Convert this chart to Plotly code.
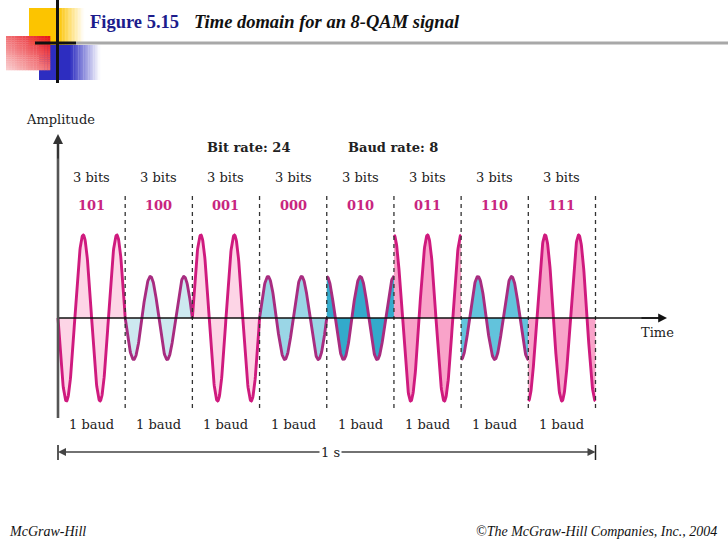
import numpy as np
import plotly.graph_objects as go

# ---------------- data ----------------
bit_groups = ["101", "100", "001", "000", "010", "011", "110", "111"]
amplitudes = [1.0, 0.5, 1.0, 0.5, 0.5, 1.0, 0.5, 1.0]
phases_deg = [180, 180, 0, 0, 90, 90, 270, 270]
fill_colors = ["#fdd5e6", "#cde9f0", "#fdd5e6", "#9ad6e6",
               "#33aacb", "#f9a3c9", "#62c3dc", "#f9a3c9"]
line_colors = ["#cf1a7e", "#a82c80", "#cf1a7e", "#a82c80",
               "#a82c80", "#cf1a7e", "#a82c80", "#cf1a7e"]
bits_per_baud = "3 bits"
baud_label = "1 baud"
bit_rate = 24
baud_rate = 8
cycles_per_baud = 2

W, H = 728, 546
X0_PX, X1_PX = 58, 595.5      # pixel positions of t=0 and t=1 s
Y0_PX, UNIT_PX = 318, 83      # pixel of amplitude 0, pixels per amplitude unit


def px(p):  # pixel x -> seconds
    return (p - X0_PX) / (X1_PX - X0_PX)


def py(p):  # pixel y -> amplitude
    return (Y0_PX - p) / UNIT_PX


def pap_x(p):
    return p / W


def pap_y(p):
    return 1 - p / H


baud_T = 1.0 / baud_rate
carrier_f = cycles_per_baud * baud_rate

fig = go.Figure()

for k, (bits, A, ph) in enumerate(zip(bit_groups, amplitudes, phases_deg)):
    t = np.linspace(k * baud_T, (k + 1) * baud_T, 240)
    s = A * np.sin(2 * np.pi * carrier_f * t + np.deg2rad(ph))
    fig.add_trace(go.Scatter(
        x=t, y=s, mode="lines", fill="tozeroy",
        fillcolor=fill_colors[k],
        line=dict(color=line_colors[k], width=2.9),
        hoverinfo="skip", showlegend=False))

shapes = []
annotations = []

# dashed baud boundaries
for k in range(1, baud_rate + 1):
    shapes.append(dict(type="line", xref="x", yref="y",
                       x0=k * baud_T, x1=k * baud_T, y0=py(196), y1=py(412),
                       line=dict(color="#333333", width=1.3, dash="4px,4px")))

# time axis (horizontal) with arrow
shapes.append(dict(type="line", xref="x", yref="y", x0=0, x1=px(660),
                   y0=0, y1=0, line=dict(color="#111111", width=1.6)))
annotations.append(dict(x=px(667), y=0, ax=px(640), ay=0, xref="x", yref="y",
                        axref="x", ayref="y", text="", showarrow=True,
                        arrowhead=2, arrowsize=1.1, arrowwidth=1.6,
                        arrowcolor="#111111"))
# amplitude axis (vertical) with arrow
shapes.append(dict(type="line", xref="x", yref="y", x0=0, x1=0,
                   y0=py(418), y1=py(140), line=dict(color="#555555", width=2.6)))
annotations.append(dict(x=0, y=py(134), ax=0, ay=py(160), xref="x", yref="y",
                        axref="x", ayref="y", text="", showarrow=True,
                        arrowhead=2, arrowsize=1, arrowwidth=2,
                        arrowcolor="#333333"))

# 1 s dimension line
dim_y = py(452)
annotations.append(dict(x=1, y=dim_y, ax=0.5, ay=dim_y, xref="x", yref="y",
                        axref="x", ayref="y", text="", showarrow=True,
                        arrowhead=2, arrowsize=1, arrowwidth=1.6,
                        arrowcolor="#444444"))
annotations.append(dict(x=0, y=dim_y, ax=0.5, ay=dim_y, xref="x", yref="y",
                        axref="x", ayref="y", text="", showarrow=True,
                        arrowhead=2, arrowsize=1, arrowwidth=1.6,
                        arrowcolor="#444444"))
for xe in (0, 1):
    shapes.append(dict(type="line", xref="x", yref="y", x0=xe, x1=xe,
                       y0=py(445), y1=py(460),
                       line=dict(color="#222222", width=1.5)))

SERIF = "DejaVu Serif"
TXT = "#222222"


def text(x, y, s, size=13, color=TXT, family=SERIF, bg=None, xanchor="center"):
    d = dict(x=x, y=y, xref="x", yref="y", text=s, showarrow=False,
             font=dict(family=family, size=size, color=color),
             xanchor=xanchor, yanchor="middle")
    if bg:
        d["bgcolor"] = bg
    annotations.append(d)


text(px(330), dim_y, "1 s", bg="white")

for k, bits in enumerate(bit_groups):
    xc = (k + 0.5) * baud_T
    text(xc, py(177), bits_per_baud)
    text(xc, py(205), "<b>" + bits + "</b>", size=13, color="#c8257f")
    text(xc, py(424), baud_label)

text(px(60), py(119), "Amplitude")
text(px(657), py(332), "Time")
text(px(248), py(147), "<b>Bit rate: %d</b>" % bit_rate, size=13)
text(px(393), py(147), "<b>Baud rate: %d</b>" % baud_rate, size=13)

# ------------- decorative header -------------
def hexmix(c1, c2, f):
    a = [int(c1[i:i + 2], 16) for i in (1, 3, 5)]
    b = [int(c2[i:i + 2], 16) for i in (1, 3, 5)]
    return "#%02x%02x%02x" % tuple(round(a[j] + (b[j] - a[j]) * f) for j in range(3))


def grad_rect(x0, x1, y0, y1, col, solid_until, n=18):
    shapes.append(dict(type="rect", xref="paper", yref="paper",
                       x0=pap_x(x0), x1=pap_x(solid_until),
                       y0=pap_y(y1), y1=pap_y(y0),
                       fillcolor=col, line=dict(width=0), layer="above"))
    step = (x1 - solid_until) / n
    for i in range(n):
        f = (i + 0.5) / n
        shapes.append(dict(type="rect", xref="paper", yref="paper",
                           x0=pap_x(solid_until + i * step),
                           x1=pap_x(solid_until + (i + 1) * step + 0.3),
                           y0=pap_y(y1), y1=pap_y(y0),
                           fillcolor=hexmix(col, "#ffffff", f),
                           line=dict(width=0), layer="above"))


grad_rect(29, 84, 8, 45, "#fcc400", 58)
grad_rect(39, 100, 45, 80, "#2d2dc0", 70)
# red square: gradient from bottom-left (pale) to top-right (red)
n = 16
for i in range(n):
    for j in range(n):
        f = ((n - 1 - i) + j) / (2 * (n - 1))
        xa = 6 + 44 * i / n
        ya = 36 + 34 * j / n
        shapes.append(dict(type="rect", xref="paper", yref="paper",
                           x0=pap_x(xa), x1=pap_x(xa + 44 / n + 0.3),
                           y0=pap_y(ya + 34 / n + 0.3), y1=pap_y(ya),
                           fillcolor=hexmix("#e8141c", "#fbe0e0", f * 0.9),
                           line=dict(width=0), layer="above"))
# header lines
shapes.append(dict(type="line", xref="paper", yref="paper",
                   x0=pap_x(76), x1=1, y0=pap_y(43), y1=pap_y(43),
                   line=dict(color="#a8a8a8", width=3), layer="above"))
shapes.append(dict(type="line", xref="paper", yref="paper",
                   x0=pap_x(35), x1=pap_x(76), y0=pap_y(43), y1=pap_y(43),
                   line=dict(color="#111111", width=3), layer="above"))
shapes.append(dict(type="line", xref="paper", yref="paper",
                   x0=pap_x(57.5), x1=pap_x(57.5), y0=pap_y(83), y1=1,
                   line=dict(color="#111111", width=3), layer="above"))

annotations.append(dict(x=pap_x(88), y=pap_y(22), xref="paper", yref="paper",
                        xanchor="left", yanchor="middle", showarrow=False,
                        text="<b>Figure 5.15</b>",
                        font=dict(family="Liberation Serif", size=18.5, color="#1c1c8c")))
annotations.append(dict(x=pap_x(192), y=pap_y(22), xref="paper", yref="paper",
                        xanchor="left", yanchor="middle", showarrow=False,
                        text="<b><i>Time domain for an 8-QAM signal</i></b>",
                        font=dict(family="Liberation Serif", size=18.5, color="#111111")))
annotations.append(dict(x=pap_x(7), y=pap_y(531), xref="paper", yref="paper",
                        xanchor="left", yanchor="middle", showarrow=False,
                        text="<i>McGraw-Hill</i>",
                        font=dict(family="Liberation Serif", size=14, color="#111111")))
annotations.append(dict(x=pap_x(719), y=pap_y(531), xref="paper", yref="paper",
                        xanchor="right", yanchor="middle", showarrow=False,
                        text="<i>©The McGraw-Hill Companies, Inc., 2004</i>",
                        font=dict(family="Liberation Serif", size=14, color="#111111")))

fig.update_layout(
    width=W, height=H,
    margin=dict(l=0, r=0, t=0, b=0),
    paper_bgcolor="white", plot_bgcolor="white",
    xaxis=dict(range=[px(0), px(W)], visible=False, fixedrange=True),
    yaxis=dict(range=[py(H), py(0)], visible=False, fixedrange=True),
    shapes=shapes, annotations=annotations,
    showlegend=False,
)

fig.write_html("out.html", config={"displayModeBar": False},
               post_script="document.body.style.margin='0';"
                           "document.body.style.padding='0';"
                           "document.body.style.overflow='hidden';")
